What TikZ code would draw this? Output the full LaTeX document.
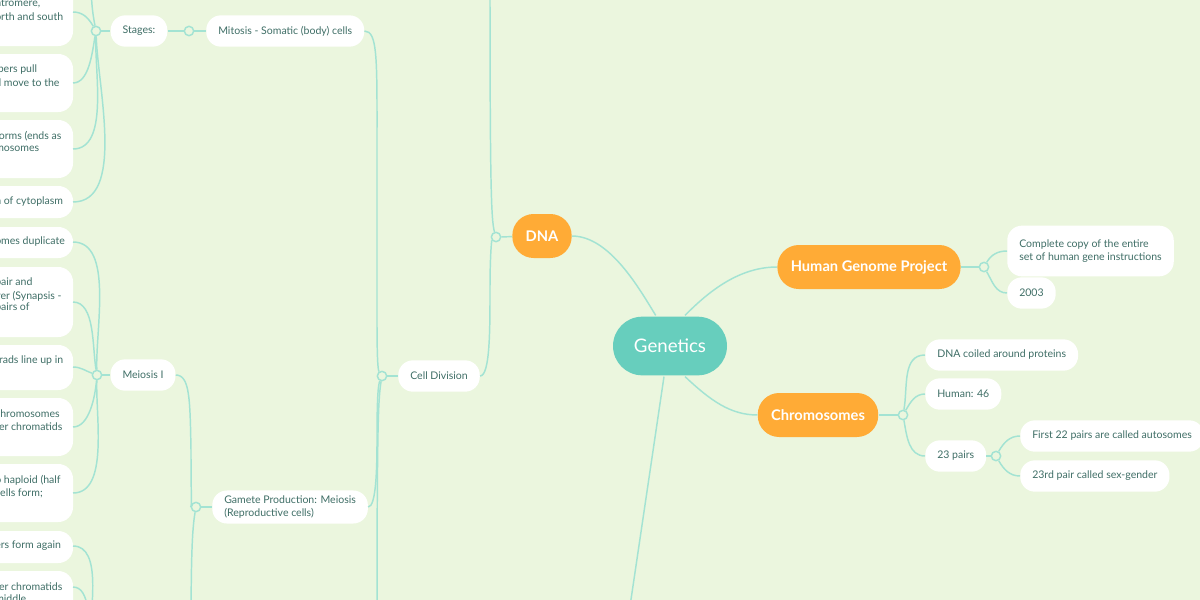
\documentclass[tikz,border=0pt]{standalone}
\usepackage{fontspec}
\setmainfont{Lato}
\definecolor{bg}{HTML}{EBF6DE}
\definecolor{ln}{HTML}{A3E3D3}
\definecolor{tx}{HTML}{3F6E66}
\definecolor{org}{HTML}{FFAB36}
\definecolor{tea}{HTML}{67CEBD}
\begin{document}
\begin{tikzpicture}[x=0.75pt,y=-0.75pt,
  box/.style={fill=white,rounded corners=11pt,text=tx,font=\fontsize{7.9}{9.6}\selectfont,align=left,inner xsep=9pt,inner ysep=4pt,minimum height=23.5pt},
  obox/.style={fill=org,rounded corners=16pt,text=white,font=\fontsize{11}{12}\selectfont\bfseries,minimum height=33pt,inner xsep=10pt},
  jc/.style={circle,draw=ln,line width=1.1pt,fill=bg,inner sep=0pt,minimum size=7pt},
  cn/.style={draw=ln,line width=1.1pt}]
\fill[bg] (0,0) rectangle (1200,600);
\clip (0,0) rectangle (1200,600);
% left clipped boxes
\fill[white,rounded corners=11pt] (-60,-20) rectangle (73,46);
\fill[white,rounded corners=11pt] (-60,54) rectangle (73,112);
\fill[white,rounded corners=11pt] (-60,120) rectangle (73,178);
\fill[white,rounded corners=11pt] (-60,186) rectangle (73,218);
\fill[white,rounded corners=11pt] (-60,227) rectangle (73,258);
\fill[white,rounded corners=11pt] (-60,267) rectangle (73,337);
\fill[white,rounded corners=11pt] (-60,345) rectangle (73,390);
\fill[white,rounded corners=11pt] (-60,398) rectangle (73,456);
\fill[white,rounded corners=11pt] (-60,464) rectangle (73,522);
\fill[white,rounded corners=11pt] (-60,531) rectangle (73,563);
\fill[white,rounded corners=11pt] (-60,571) rectangle (73,640);
\begin{scope}[every node/.style={text=tx,font=\fontsize{7.9}{9.6}\selectfont,anchor=west,inner sep=0pt}]
\node (t1a) at (-5,4) {ntromere,}; \node (t1b) at (-5,17) {orth and south};
\node (t2a) at (-5,70) {ibers pull}; \node (t2b) at (-5,83) {d move to the};
\node (t3a) at (-5,136) {forms (ends as}; \node (t3b) at (-5,149) {mosomes};
\node (t4) at (-5,202) {n of cytoplasm};
\node (t5) at (-5,242) {omes duplicate};
\node (t6a) at (-5,283) {pair and}; \node (t6b) at (-5,296) {ver (Synapsis -}; \node (t6c) at (-5,308) {pairs of};
\node (t7) at (-5,361) {trads line up in};
\node (t8a) at (-5,414) {chromosomes}; \node (t8b) at (-5,427) {ter chromatids};
\node (t9a) at (-5,480) {o haploid (half}; \node (t9b) at (-5,493) {cells form;};
\node (t10) at (-5,546) {ers form again};
\node (t11a) at (-5,587) {ter chromatids}; \node (t11b) at (-5,599) {middle};
\end{scope}
\foreach \n/\y in {e1/12,e2/83,e3/149,e4/202,e5/242,e6/302,e7/367,e8/427,e9/493,e10/546,e11/587}
  \coordinate (\n) at (73,\y);
% junctions
\node[jc] (js) at (96,31) {};
\node[jc] (jm) at (97,375) {};
\coordinate (jb) at (90,640);
\coordinate (jt) at (91,-30);
\draw[cn] (js) .. controls (92,10) and (91,0) .. (jt);
\draw[cn] (e1) to[out=0,in=120] (js);
\draw[cn] (e2) to[out=0,in=260,looseness=0.8] (js);
\draw[cn] (e3) to[out=0,in=268,looseness=0.8] (js);
\draw[cn] (e4) to[out=0,in=272,looseness=0.8] (js);
\draw[cn] (e5) to[out=0,in=92,looseness=0.8] (jm);
\draw[cn] (e6) to[out=0,in=100,looseness=0.8] (jm);
\draw[cn] (e7) to[out=0,in=160] (jm);
\draw[cn] (e8) to[out=0,in=265,looseness=0.8] (jm);
\draw[cn] (e9) to[out=0,in=268,looseness=0.8] (jm);
\draw[cn] (e10) to[out=0,in=90,looseness=0.8] (jb);
\draw[cn] (e11) to[out=0,in=95,looseness=0.8] (jb);
% mid nodes
\node[box] (stages) at (139,31) {Stages:};
\node[jc] (js2) at (189,31) {};
\node[box,anchor=west] (mit) at (206,31) {Mitosis - Somatic (body) cells};
\node[box] (mei1) at (143,375) {Meiosis I};
\node[jc] (jg) at (196,507) {};
\node[box,anchor=west] (gam) at (212,507) {Gamete Production: Meiosis\\(Reproductive cells)};
\node[jc] (jcd) at (382,376) {};
\node[box,anchor=west] (cd) at (398,376) {Cell Division};
\node[jc] (jd) at (496,237) {};
\node[obox] (dna) at (542,236) {DNA};
\coordinate (jgb) at (191,640);
\coordinate (jcdb) at (377,640);
\coordinate (jdt) at (490,-30);
\draw[cn] (js) -- (stages);
\draw[cn] (stages) -- (js2) -- (mit);
\draw[cn] (jm) -- (mei1);
\draw[cn] (mei1.east) .. controls (190,375) and (190,400) .. (191,450) .. controls (191,495) and (192,507) .. (jg);
\draw[cn] (jg) -- (gam);
\draw[cn] (jg) .. controls (192,530) and (191,560) .. (jgb);
\draw[cn] (mit.east) .. controls (378,31) and (377,60) .. (377,150) -- (377,320) .. controls (377,360) and (378,370) .. (jcd);
\draw[cn] (gam.east) .. controls (376,507) and (377,470) .. (377,440) .. controls (377,400) and (378,385) .. (jcd);
\draw[cn] (jcd) .. controls (378,400) and (377,430) .. (jcdb);
\draw[cn] (jcd) -- (cd);
\draw[cn] (cd.east) .. controls (490,376) and (490,330) .. (490,290) .. controls (490,250) and (492,240) .. (jd);
\draw[cn] (jd) .. controls (491,220) and (490,180) .. (jdt);
\draw[cn] (jd) -- (dna);
% right side
\node[fill=tea,rounded corners=22pt,text=white,font=\fontsize{14}{16}\selectfont,minimum width=85.5pt,minimum height=44pt] (gen) at (670,346) {Genetics};
\node[obox] (hgp) at (869,267) {Human Genome Project};
\node[obox] (chr) at (818,415) {Chromosomes};
\node[jc] (jh) at (984,267) {};
\node[jc] (jc) at (903,415) {};
\node[jc] (j23) at (996,456) {};
\node[box,anchor=west,minimum height=38pt] (cc) at (1007,251) {Complete copy of the entire\\set of human gene instructions};
\node[box,anchor=west] (y03) at (1007,293) {2003};
\node[box,anchor=west] (dc) at (925,355) {DNA coiled around proteins};
\node[box,anchor=west] (h46) at (925,394) {Human: 46};
\node[box,anchor=west] (p23) at (925,456) {23 pairs};
\node[box,anchor=west] (f22) at (1020,436) {First 22 pairs are called autosomes};
\node[box,anchor=west] (r23) at (1020,476) {23rd pair called sex-gender};
\coordinate (gb) at (625,640);
\draw[cn] (gen.north west) ++(43,-1) .. controls (640,290) and (610,236) .. (dna.east);
\draw[cn] (gen.north) ++(15,-1) .. controls (710,290) and (740,267) .. (hgp.west);
\draw[cn] (gen.south) ++(15,1) .. controls (710,400) and (730,415) .. (chr.west);
\draw[cn] (gen.south) ++(-6,1) -- (gb);
\draw[cn] (hgp) -- (jh); \draw[cn] (chr) -- (jc); \draw[cn] (p23) -- (j23);
\draw[cn] (jh) to[out=60,in=180] (cc.west);
\draw[cn] (jh) to[out=-60,in=180] (y03.west);
\draw[cn] (jc) to[out=80,in=180] (dc.west);
\draw[cn] (jc) to[out=60,in=180] (h46.west);
\draw[cn] (jc) to[out=-80,in=180] (p23.west);
\draw[cn] (j23) to[out=60,in=180] (f22.west);
\draw[cn] (j23) to[out=-60,in=180] (r23.west);
\end{tikzpicture}
\end{document}
